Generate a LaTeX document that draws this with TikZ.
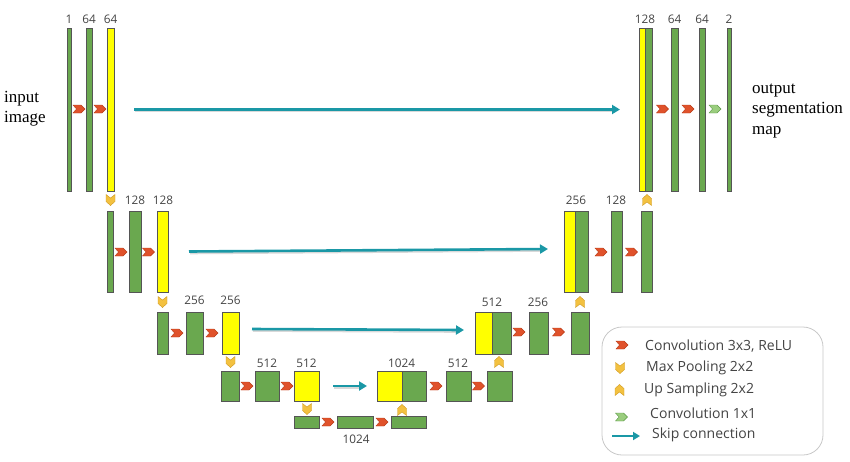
\documentclass[tikz,border=0pt]{standalone}
\usepackage{fontspec}
\setmainfont{Liberation Serif}
\newfontfamily\lblfont{Open Sans}
\usetikzlibrary{arrows.meta}
\definecolor{gfill}{HTML}{6AA84F}
\definecolor{bordc}{HTML}{555555}
\definecolor{yfill}{HTML}{FFFF00}
\definecolor{convc}{HTML}{E0522B}
\definecolor{convd}{HTML}{B83C18}
\definecolor{poolc}{HTML}{F3C140}
\definecolor{poold}{HTML}{D09A20}
\definecolor{onec}{HTML}{9ACD7E}
\definecolor{oned}{HTML}{5E9A4A}
\definecolor{skipc}{HTML}{1A98A6}
\definecolor{txtc}{HTML}{444444}
\definecolor{legb}{HTML}{C8C8C8}
\newcommand\blk[6]{\node[#6, minimum width={#4-#2}, minimum height={#5-#3}] (#1) at ({(#2+#4)/2},{(#3+#5)/2}) {};}
\tikzset{
 blkg/.style={draw=bordc, fill=gfill, line width=0.8pt, inner sep=0pt, outer sep=0pt},
 blky/.style={blkg, fill=yfill},
 lbl/.style={font=\lblfont\fontsize{11.8}{13}\selectfont, text=txtc, inner sep=0pt},
 legtxt/.style={font=\lblfont\fontsize{14}{16}\selectfont, text=txtc, inner sep=0pt, anchor=west},
 serift/.style={font=\fontsize{17}{20}\selectfont, inner sep=0pt, anchor=base west},
 skiparrow/.style={draw=skipc, line width=2.6pt, -{Triangle[length=8pt,width=9pt]}},
 skipshadow/.style={draw=black, opacity=0.15, line width=2.6pt},
 chevR/.pic={\path[pic actions] (-6,-4) -- (2,-4) -- (6,0) -- (2,4) -- (-6,4) -- (-2.5,0) -- cycle;},
 chevD/.pic={\path[pic actions] (-4.5,-5.5) -- (0,-2) -- (4.5,-5.5) -- (4.5,1.5) -- (0,5.5) -- (-4.5,1.5) -- cycle;},
 chevU/.pic={\path[pic actions] (-4.5,5.5) -- (0,2) -- (4.5,5.5) -- (4.5,-1.5) -- (0,-5.5) -- (-4.5,-1.5) -- cycle;},
 conv/.style={fill=convc, draw=convd, line width=0.4pt},
 pool/.style={fill=poolc, draw=poold, line width=0.4pt},
 one/.style={fill=onec, draw=oned, line width=0.4pt},
}
\begin{document}
\begin{tikzpicture}[x=1pt,y=-1pt]
\useasboundingbox (0,0) rectangle (850,461);
% ---- blocks ----
\blk{a1}{67}{28}{71}{191}{blkg}
\blk{a2}{86}{28}{92}{191}{blkg}
\blk{a3}{107}{28}{114}{191}{blky}
\blk{b1}{107}{211}{113}{292}{blkg}
\blk{b2}{129}{211}{141}{292}{blkg}
\blk{b3}{157}{211}{168}{292}{blky}
\blk{c1}{157}{312}{168}{354}{blkg}
\blk{c2}{186}{312}{203}{354}{blkg}
\blk{c3}{222}{312}{239}{354}{blky}
\blk{d1}{221}{371}{239}{401}{blkg}
\blk{d2}{255}{371}{279}{401}{blkg}
\blk{d3}{294}{371}{319}{401}{blky}
\blk{e1}{294}{416}{319}{428}{blkg}
\blk{e2}{337}{416}{373}{428}{blkg}
\blk{e3}{391}{416}{426}{428}{blkg}
\blk{f1y}{377}{371}{402}{401}{blky}
\blk{f1g}{402}{371}{426}{401}{blkg}
\blk{f2}{446}{371}{471}{401}{blkg}
\blk{f3}{487}{371}{512}{401}{blkg}
\blk{g1y}{475}{312}{492}{354}{blky}
\blk{g1g}{492}{312}{511}{354}{blkg}
\blk{g2}{529}{312}{548}{354}{blkg}
\blk{g3}{571}{312}{589}{354}{blkg}
\blk{h1y}{564}{211}{575}{292}{blky}
\blk{h1g}{575}{211}{588}{292}{blkg}
\blk{h2}{611}{211}{622}{292}{blkg}
\blk{h3}{641}{211}{652}{292}{blkg}
\blk{i1y}{639}{28}{645}{191}{blky}
\blk{i1g}{645}{28}{652}{191}{blkg}
\blk{i2}{671}{28}{678}{191}{blkg}
\blk{i3}{699}{28}{705}{191}{blkg}
\blk{i4}{727}{28}{731}{191}{blkg}
% ---- labels ----
\node[lbl] (la1) at (69,19) {1};
\node[lbl] (la2) at (89,19) {64};
\node[lbl] (la3) at (110.5,19) {64};
\node[lbl] (li1) at (645,19) {128};
\node[lbl] (li2) at (674.5,19) {64};
\node[lbl] (li3) at (702,19) {64};
\node[lbl] (li4) at (729,19) {2};
\node[lbl] (lb2) at (135,200) {128};
\node[lbl] (lb3) at (163,200) {128};
\node[lbl] (lh1) at (576,200) {256};
\node[lbl] (lh2) at (616,200) {128};
\node[lbl] (lc2) at (194.5,300) {256};
\node[lbl] (lc3) at (230.5,300) {256};
\node[lbl] (lg1) at (492,302) {512};
\node[lbl] (lg2) at (538,302) {256};
\node[lbl] (ld2) at (267,363) {512};
\node[lbl] (ld3) at (306.5,363) {512};
\node[lbl] (lf1) at (401.5,363) {1024};
\node[lbl] (lf2) at (458,363) {512};
\node[lbl] (le2) at (356,439) {1024};
% ---- side texts ----
\node[serift] (in1) at (4,102) {input};
\node[serift] (in2) at (4,122) {image};
\node[serift] (out1) at (752,93) {output};
\node[serift] (out2) at (752,113.5) {segmentation};
\node[serift] (out3) at (752,134) {map};
% ---- chevrons ----
\pic[conv] at (79,109) {chevR};
\pic[conv] at (100,109) {chevR};
\pic[pool] at (110.5,200) {chevD};
\pic[conv] at (121,252) {chevR};
\pic[conv] at (148.5,252) {chevR};
\pic[pool] at (162.5,302) {chevD};
\pic[conv] at (177,333) {chevR};
\pic[conv] at (212,333) {chevR};
\pic[pool] at (230.5,362) {chevD};
\pic[conv] at (247,386) {chevR};
\pic[conv] at (287,386) {chevR};
\pic[pool] at (307,409) {chevD};
\pic[conv] at (328,422) {chevR};
\pic[conv] at (382,422) {chevR};
\pic[pool] at (402,410) {chevU};
\pic[conv] at (436,386) {chevR};
\pic[conv] at (478.5,386) {chevR};
\pic[pool] at (499,362) {chevU};
\pic[conv] at (519,332) {chevR};
\pic[conv] at (558.5,332) {chevR};
\pic[pool] at (580,302) {chevU};
\pic[conv] at (601,252) {chevR};
\pic[conv] at (631.5,252) {chevR};
\pic[pool] at (647,200) {chevU};
\pic[conv] at (662.5,109) {chevR};
\pic[conv] at (688,109) {chevR};
\pic[one] at (715,109) {chevR};
% ---- skip connections ----
\draw[skipshadow] ([xshift=21pt,yshift=-1.5pt]a3.east) -- ([xshift=-27pt,yshift=-1.5pt]i1y.west);
\draw[skiparrow] ([xshift=20pt]a3.east) -- ([xshift=-19pt]i1y.west);
\draw[skipshadow] ([xshift=22pt,yshift=-1.5pt]b3.east) -- ([xshift=-24pt,yshift=1pt]h1y.west);
\draw[skiparrow] ([xshift=21pt]b3.east) -- ([xshift=-16pt,yshift=2.5pt]h1y.west);
\draw[skipshadow] ([xshift=14pt,yshift=2.5pt]c3.east) -- ([xshift=-19pt,yshift=1.5pt]g1y.west);
\draw[skiparrow] ([xshift=13pt,yshift=4pt]c3.east) -- ([xshift=-11pt,yshift=3pt]g1y.west);
\draw[skipshadow] ([xshift=15pt,yshift=-1.5pt]d3.east) -- ([xshift=-18pt,yshift=-1.5pt]f1y.west);
\draw[skiparrow] ([xshift=14pt]d3.east) -- ([xshift=-10pt]f1y.west);
% ---- legend ----
\node[draw=legb, fill=white, line width=0.8pt, rounded corners=20pt, minimum width=221pt, minimum height=128pt, inner sep=0pt] (legend) at (712.5,391) {};
\pic[conv] at (622,345) {chevR};
\pic[pool] at (620,368) {chevD};
\pic[pool] at (619.5,390) {chevU};
\pic[one] at (621.5,417) {chevR};
\coordinate (ks) at (612,436);
\coordinate (ke) at (640,436);
\draw[skiparrow, line width=2.4pt, -{Triangle[length=7pt,width=8pt]}] (ks) -- (ke);
\node[legtxt] (t1) at (645,346) {Convolution 3x3, ReLU};
\node[legtxt] (t2) at (646,368) {Max Pooling 2x2};
\node[legtxt] (t3) at (644,390) {Up Sampling 2x2};
\node[legtxt] (t4) at (650,413) {Convolution 1x1};
\node[legtxt] (t5) at (652,435) {Skip connection};
\end{tikzpicture}
\end{document}
